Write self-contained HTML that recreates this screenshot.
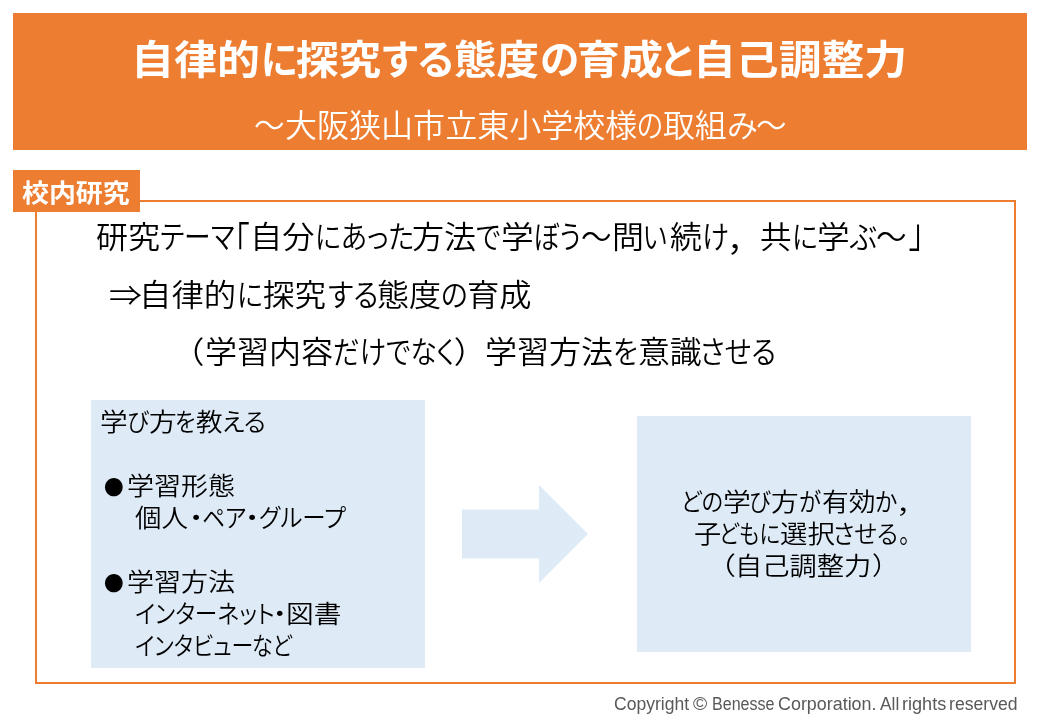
<!DOCTYPE html>
<html lang="ja">
<head>
<meta charset="utf-8">
<title>自律的に探究する態度の育成と自己調整力</title>
<style>
*{margin:0;padding:0;box-sizing:border-box}
html,body{width:1040px;height:720px;background:#fff;overflow:hidden}
body{position:relative;font-family:"Liberation Sans","Noto Sans CJK JP",sans-serif;color:#000}
.abs{position:absolute}
.ln{will-change:transform;position:absolute;left:0;width:1040px;height:1em;line-height:1;white-space:nowrap;font-feature-settings:"palt" 1}
.ln span{position:absolute;top:0;line-height:1;white-space:pre;transform-origin:0 0}
#banner{left:13px;top:13px;width:1014px;height:137px;background:#ED7D31}
#frame{left:35px;top:200px;width:981px;height:484px;border:2px solid #ED7D31;background:#fff}
#label{left:13px;top:170px;width:127px;height:42px;background:#ED7D31}
#boxL{left:91px;top:400px;width:334px;height:268px;background:#DEEBF7}
#boxR{left:637px;top:416px;width:334px;height:236px;background:#DEEBF7}
#arrow{left:462px;top:485px;width:127px;height:98px}
</style>
</head>
<body>
<div class="abs" id="banner"></div>
<div class="ln" id="title" style="top:40.10px;font-size:40.00px;font-weight:700;color:#fff"><span style="left:131.08px;transform:scaleX(1.0750)">自律的</span><span style="left:260.65px;transform:scaleX(0.9375)">に</span><span style="left:296.05px;transform:scaleX(1.0625)">探究</span><span style="left:382.17px;transform:scaleX(0.9868)">する</span><span style="left:454.32px;transform:scaleX(1.0631)">態度</span><span style="left:539.53px;transform:scaleX(0.9871)">の</span><span style="left:577.25px;transform:scaleX(1.0742)">育成</span><span style="left:661.01px;transform:scaleX(0.9571)">と</span><span style="left:692.75px;transform:scaleX(1.0709)">自己調整力</span></div>
<div class="ln" id="sub" style="top:110.79px;font-size:31.30px;font-weight:350;color:#fff"><span style="left:254.07px;transform:scaleX(0.9761)">～</span><span style="left:284.80px;transform:scaleX(1.0234)">大阪狭山市立東小学校様</span><span style="left:637.24px;transform:scaleX(0.8617)">の</span><span style="left:663.44px;transform:scaleX(1.0184)">取組</span><span style="left:726.59px;transform:scaleX(0.9859)">み</span><span style="left:755.97px;transform:scaleX(0.9761)">～</span></div>
<div class="abs" id="frame"></div>
<div class="abs" id="label"></div>
<div class="ln" id="lab" style="top:181.15px;font-size:25.31px;font-weight:700;color:#fff"><span style="left:21.86px;transform:scaleX(1.0645)">校内研究</span></div>
<div class="ln" id="l1" style="top:223.00px;font-size:30.32px;font-weight:350;color:#000"><span style="left:95.94px;transform:scaleX(1.0569)">研究</span><span style="left:159.91px;transform:scaleX(0.8823)">テーマ</span><span style="left:234.25px;top:0.40px;font-size:40.68px;transform:scaleX(0.7451)">「</span><span style="left:250.11px;transform:scaleX(1.0654)">自分</span><span style="left:314.87px;transform:scaleX(0.8864)">にあった</span><span style="left:411.50px;transform:scaleX(1.0584)">方法</span><span style="left:475.67px;transform:scaleX(0.8755)">で</span><span style="left:501.14px;transform:scaleX(1.0793)">学</span><span style="left:532.89px;transform:scaleX(0.8520)">ぼう</span><span style="left:580.97px;transform:scaleX(1.0077)">～</span><span style="left:612.12px;transform:scaleX(1.0557)">問</span><span style="left:643.47px;transform:scaleX(0.8349)">い</span><span style="left:669.64px;transform:scaleX(1.0525)">続</span><span style="left:702.32px;transform:scaleX(0.9028)">け</span><span style="left:729.49px;top:2.61px;font-size:30.30px;transform:scaleX(1.1367)">，</span><span style="left:760.32px;transform:scaleX(1.0401)">共</span><span style="left:791.79px;transform:scaleX(0.8823)">に</span><span style="left:816.79px;transform:scaleX(1.0774)">学</span><span style="left:850.00px;transform:scaleX(0.9309)">ぶ</span><span style="left:875.97px;transform:scaleX(1.0077)">～</span><span style="left:909.40px;top:-9.28px;font-size:39.92px;transform:scaleX(0.7593)">」</span></div>
<div class="ln" id="l2" style="top:280.50px;font-size:30.32px;font-weight:350;color:#000"><span style="left:108.68px;top:1.99px;font-size:27.91px;transform:scaleX(1.1789)">⇒</span><span style="left:139.49px;transform:scaleX(1.0682)">自律的</span><span style="left:237.38px;transform:scaleX(0.8844)">に</span><span style="left:262.81px;transform:scaleX(1.0364)">探究</span><span style="left:327.63px;transform:scaleX(0.9252)">する</span><span style="left:377.47px;transform:scaleX(1.0576)">態度</span><span style="left:440.88px;transform:scaleX(0.9161)">の</span><span style="left:466.82px;transform:scaleX(1.0631)">育成</span></div>
<div class="ln" id="l3" style="top:338.00px;font-size:30.32px;font-weight:350;color:#000"><span style="left:187.22px;transform:scaleX(1.0685)">（</span><span style="left:204.98px;transform:scaleX(1.0570)">学習内容</span><span style="left:332.87px;transform:scaleX(0.8762)">だけでなく</span><span style="left:455.27px;transform:scaleX(1.0751)">）</span><span style="left:484.98px;transform:scaleX(1.0570)">学習方法</span><span style="left:612.59px;transform:scaleX(0.8823)">を</span><span style="left:637.81px;transform:scaleX(1.0512)">意識</span><span style="left:699.50px;transform:scaleX(0.9125)">させる</span></div>
<div class="abs" id="boxL"></div>
<div class="ln" id="a1" style="top:410.20px;font-size:25.00px;font-weight:350;color:#000"><span style="left:99.59px;transform:scaleX(1.1068)">学</span><span style="left:126.70px;transform:scaleX(0.9091)">び</span><span style="left:148.61px;transform:scaleX(1.1111)">方</span><span style="left:175.01px;transform:scaleX(0.8831)">を</span><span style="left:196.20px;transform:scaleX(1.0645)">教</span><span style="left:222.17px;transform:scaleX(0.9899)">える</span></div>
<div class="ln" id="a2" style="top:474.20px;font-size:25.00px;font-weight:350;color:#000"><span style="left:103.72px;top:1.57px;font-size:20.33px;transform:scaleX(0.9672);font-family:'Noto Sans CJK JP','Liberation Sans',sans-serif">●</span><span style="left:126.88px;transform:scaleX(1.0800)">学習形態</span></div>
<div class="ln" id="a3" style="top:506.20px;font-size:25.00px;font-weight:350;color:#000"><span style="left:135.17px;transform:scaleX(1.0605)">個人</span><span style="left:188.86px;transform:scaleX(1.1300)">・</span><span style="left:201.51px;transform:scaleX(0.9109)">ペア</span><span style="left:244.51px;transform:scaleX(1.1300)">・</span><span style="left:258.82px;transform:scaleX(0.9407)">グループ</span></div>
<div class="ln" id="a4" style="top:570.20px;font-size:25.00px;font-weight:350;color:#000"><span style="left:103.72px;top:1.57px;font-size:20.33px;transform:scaleX(0.9672);font-family:'Noto Sans CJK JP','Liberation Sans',sans-serif">●</span><span style="left:126.88px;transform:scaleX(1.0810)">学習方法</span></div>
<div class="ln" id="a5" style="top:602.20px;font-size:25.00px;font-weight:350;color:#000"><span style="left:134.54px;transform:scaleX(0.9085)">インターネット</span><span style="left:273.15px;transform:scaleX(1.0800)">・</span><span style="left:286.20px;transform:scaleX(1.1092)">図書</span></div>
<div class="ln" id="a6" style="top:634.20px;font-size:25.00px;font-weight:350;color:#000"><span style="left:134.58px;transform:scaleX(0.8780)">インタビュー</span><span style="left:252.41px;transform:scaleX(0.8370)">など</span></div>
<svg class="abs" id="arrow" viewBox="0 0 127 98"><polygon points="0,24.5 77,24.5 77,0 126,49 77,98 77,73.5 0,73.5" fill="#DEEBF7"/></svg>
<div class="abs" id="boxR"></div>
<div class="ln" id="r1" style="top:490.00px;font-size:25.00px;font-weight:350;color:#000"><span style="left:681.02px;transform:scaleX(0.8897)">どの</span><span style="left:722.53px;transform:scaleX(1.1136)">学</span><span style="left:749.49px;transform:scaleX(0.8955)">び</span><span style="left:771.22px;transform:scaleX(1.1067)">方</span><span style="left:798.94px;transform:scaleX(0.8933)">が</span><span style="left:822.06px;transform:scaleX(1.0702)">有効</span><span style="left:874.81px;transform:scaleX(0.9103)">か</span><span style="left:898.20px;top:3.39px;font-size:24.85px;transform:scaleX(1.2073)">，</span></div>
<div class="ln" id="r2" style="top:522.00px;font-size:25.00px;font-weight:350;color:#000"><span style="left:693.64px;transform:scaleX(1.0889)">子</span><span style="left:718.54px;transform:scaleX(0.8618)">どもに</span><span style="left:779.60px;transform:scaleX(1.0964)">選択</span><span style="left:832.52px;transform:scaleX(0.9470)">させる</span><span style="left:899.20px;transform:scaleX(0.8774)">。</span></div>
<div class="ln" id="r3" style="top:554.00px;font-size:25.00px;font-weight:350;color:#000"><span style="left:720.40px;transform:scaleX(1.2000)">（</span><span style="left:735.27px;transform:scaleX(1.0895)">自己調整力</span><span style="left:873.43px;transform:scaleX(1.0880)">）</span></div>
<div class="ln" id="copy" style="top:694.90px;font-size:18.03px;font-weight:400;color:#595959;font-feature-settings:normal"><span style="left:613.52px;transform:scaleX(0.9727)">Copyright </span><span style="left:693.01px;transform:scaleX(1.0703)">© </span><span style="left:712.11px;transform:scaleX(0.8916)">Benesse </span><span style="left:777.70px;transform:scaleX(0.9935)">Corporation. </span><span style="left:879.60px;transform:scaleX(0.9615)">All </span><span style="left:901.53px;transform:scaleX(1.0051)">rights </span><span style="left:948.66px;transform:scaleX(0.9796)">reserved</span></div>
</body>
</html>
